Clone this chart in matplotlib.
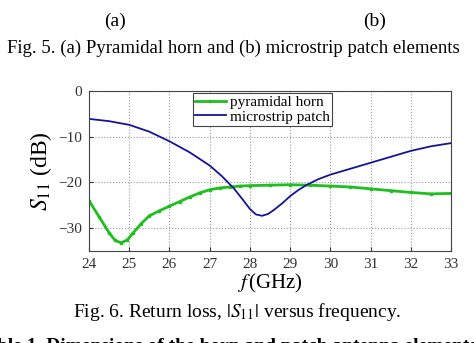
import numpy as np
import matplotlib.pyplot as plt

# Return loss data
f_horn = [24.0, 24.25, 24.5, 24.65, 24.8, 24.95, 25.1, 25.3, 25.5, 25.75, 26.0, 26.25, 26.5,
          26.75, 27.0, 27.25, 27.5, 27.75, 28.0, 28.5, 29.0, 29.5, 30.0, 30.5, 31.0, 31.5,
          32.0, 32.5, 33.0]
s11_horn = [-24.0, -27.5, -31.0, -32.7, -33.2, -32.6, -31.0, -29.0, -27.3, -26.2, -25.2,
            -24.2, -23.2, -22.3, -21.6, -21.2, -21.0, -20.8, -20.7, -20.6, -20.5, -20.6,
            -20.8, -21.0, -21.4, -21.8, -22.2, -22.5, -22.4]

f_patch = [24.0, 24.5, 25.0, 25.5, 26.0, 26.5, 27.0, 27.3, 27.6, 27.8, 28.0, 28.15, 28.3,
           28.45, 28.6, 28.8, 29.0, 29.2, 29.4, 29.7, 30.0, 30.5, 31.0, 31.5, 32.0, 32.5, 33.0]
s11_patch = [-6.1, -6.6, -7.4, -8.9, -11.0, -13.4, -16.3, -18.6, -21.3, -23.5, -25.8, -27.0,
             -27.3, -26.9, -26.0, -24.6, -23.0, -21.7, -20.6, -19.3, -18.3, -17.0, -15.7,
             -14.4, -13.1, -12.1, -11.4]

plt.rcParams['font.family'] = 'Liberation Serif'
plt.rcParams['mathtext.fontset'] = 'stix'

fig = plt.figure(figsize=(4.74, 3.43), dpi=100)
ax = fig.add_axes([89 / 474, 1 - 251 / 343, 362 / 474, 160 / 343])

ax.plot(f_horn, s11_horn, color='#1fbf1f', lw=2.0, marker='s', markersize=1.8,
        label='pyramidal horn')
ax.plot(f_patch, s11_patch, color='#14149a', lw=1.3, label='microstrip patch')

ax.set_xlim(24, 33)
ax.set_ylim(-35, 0)
ax.set_xticks(np.arange(24, 34, 1))
ax.set_yticks([0, -10, -20, -30])
ax.grid(True, linestyle=':', color='#999999', lw=0.8)
ax.tick_params(direction='in', labelsize=11, colors='#333333', length=3, pad=5)
for s in ax.spines.values():
    s.set_linewidth(0.8)
    s.set_color('#444444')

ax.set_xlabel(r'$f\,$(GHz)', fontsize=15, labelpad=1)
ax.set_ylabel(r'$S_{11}$ (dB)', fontsize=17, labelpad=3)

leg = ax.legend(loc='upper left', bbox_to_anchor=(0.287, 0.985), fontsize=11,
                handlelength=2.0, handletextpad=0.3, borderpad=0.15, labelspacing=0.05,
                borderaxespad=0, fancybox=False, edgecolor='#444444', framealpha=1)
leg.get_frame().set_linewidth(0.8)

# surrounding paper text
fig.text(115 / 474, 1 - 21 / 343, '(a)', fontsize=14, ha='center', va='center')
fig.text(375 / 474, 1 - 21 / 343, '(b)', fontsize=14, ha='center', va='center')
fig.text(7 / 474, 1 - 48 / 343, 'Fig. 5. (a) Pyramidal horn and (b) microstrip patch elements',
         fontsize=13.5, ha='left', va='center')
fig.text(237 / 474, 1 - 312 / 343, 'Fig. 6. Return loss, $|S_{11}|$ versus frequency.',
         fontsize=14, ha='center', va='center')
fig.text(-24 / 474, 1 - 338 / 343, 'Table 1. Dimensions of the horn and patch antenna elements',
         fontsize=14, ha='left', va='top', fontweight='bold')

fig.savefig('out.png', dpi=100)
